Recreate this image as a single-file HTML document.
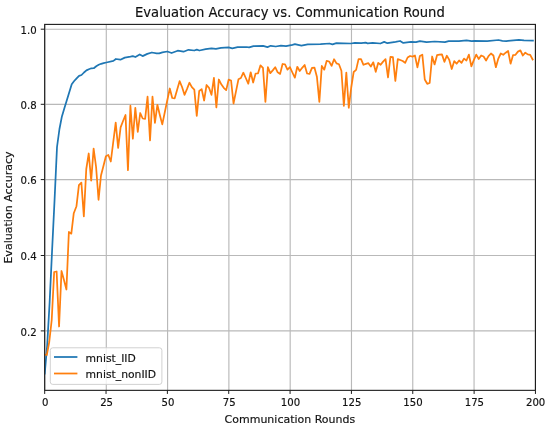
<!DOCTYPE html>
<html><head><meta charset="utf-8"><title>Evaluation Accuracy vs. Communication Round</title>
<style>
html,body{margin:0;padding:0;background:#fff;}
svg{display:block;}
text{font-family:"DejaVu Sans","Liberation Sans",sans-serif;fill:#111;stroke:#111;stroke-width:0.16px;}
</style></head><body>
<svg width="550" height="428" viewBox="0 0 550 428">
<rect x="0" y="0" width="550" height="428" fill="#ffffff"/>

<g stroke="#b9b9b9" stroke-width="1.15" fill="none">
<line x1="45.00" y1="24.4" x2="45.00" y2="390.35"/>
<line x1="106.29" y1="24.4" x2="106.29" y2="390.35"/>
<line x1="167.59" y1="24.4" x2="167.59" y2="390.35"/>
<line x1="228.88" y1="24.4" x2="228.88" y2="390.35"/>
<line x1="290.18" y1="24.4" x2="290.18" y2="390.35"/>
<line x1="351.47" y1="24.4" x2="351.47" y2="390.35"/>
<line x1="412.76" y1="24.4" x2="412.76" y2="390.35"/>
<line x1="474.06" y1="24.4" x2="474.06" y2="390.35"/>
<line x1="535.35" y1="24.4" x2="535.35" y2="390.35"/>
<line x1="44.65" y1="330.90" x2="535.45" y2="330.90"/>
<line x1="44.65" y1="255.50" x2="535.45" y2="255.50"/>
<line x1="44.65" y1="179.60" x2="535.45" y2="179.60"/>
<line x1="44.65" y1="104.30" x2="535.45" y2="104.30"/>
<line x1="44.65" y1="29.20" x2="535.45" y2="29.20"/>
</g>
<g stroke="#1c1c1c" stroke-width="1.0" fill="none">
<line x1="44.70" y1="390.35" x2="44.70" y2="393.95000000000005"/>
<line x1="106.04" y1="390.35" x2="106.04" y2="393.95000000000005"/>
<line x1="167.39" y1="390.35" x2="167.39" y2="393.95000000000005"/>
<line x1="228.73" y1="390.35" x2="228.73" y2="393.95000000000005"/>
<line x1="290.07" y1="390.35" x2="290.07" y2="393.95000000000005"/>
<line x1="351.42" y1="390.35" x2="351.42" y2="393.95000000000005"/>
<line x1="412.76" y1="390.35" x2="412.76" y2="393.95000000000005"/>
<line x1="474.11" y1="390.35" x2="474.11" y2="393.95000000000005"/>
<line x1="535.45" y1="390.35" x2="535.45" y2="393.95000000000005"/>
<line x1="40.75" y1="330.90" x2="44.65" y2="330.90"/>
<line x1="40.75" y1="255.50" x2="44.65" y2="255.50"/>
<line x1="40.75" y1="179.60" x2="44.65" y2="179.60"/>
<line x1="40.75" y1="104.30" x2="44.65" y2="104.30"/>
<line x1="40.75" y1="29.20" x2="44.65" y2="29.20"/>
</g>
<clipPath id="c"><rect x="44.65" y="24.4" width="490.80000000000007" height="365.95000000000005"/></clipPath>
<g clip-path="url(#c)" fill="none" stroke-width="1.75" stroke-linejoin="round" stroke-linecap="square">
<path d="M44.75 373.60 L47.20 345.00 L49.65 302.00 L52.11 250.00 L54.56 200.00 L57.01 147.00 L59.46 129.00 L61.91 116.40 L64.36 108.30 L66.82 100.30 L69.27 92.20 L71.72 84.20 L74.17 81.00 L76.62 78.30 L79.07 75.80 L81.53 75.00 L83.98 72.50 L86.43 70.40 L88.88 69.20 L91.33 68.30 L93.78 68.20 L96.24 66.20 L98.69 64.80 L101.14 63.80 L103.59 63.10 L106.40 62.50 L113.40 60.90 L115.90 59.00 L120.40 59.70 L124.80 57.60 L130.50 56.70 L132.80 56.10 L135.40 57.00 L139.70 54.40 L142.60 56.10 L147.30 53.90 L151.90 52.50 L156.60 53.30 L159.20 53.30 L162.40 52.30 L167.30 51.50 L171.60 53.00 L177.70 50.70 L183.50 51.70 L188.50 49.80 L194.30 50.50 L196.80 49.60 L199.40 50.50 L205.70 49.20 L211.50 48.30 L215.90 48.80 L221.00 47.90 L228.60 47.30 L232.30 48.30 L237.60 47.10 L246.50 47.00 L249.10 47.40 L253.50 46.10 L263.10 45.80 L267.50 47.10 L270.70 45.80 L275.80 46.50 L280.90 45.70 L286.00 46.10 L292.40 44.80 L294.90 44.20 L301.40 45.70 L307.70 44.40 L320.50 44.20 L329.40 43.50 L332.50 44.40 L336.40 43.20 L351.00 43.50 L354.80 42.90 L361.20 43.20 L365.70 42.70 L367.60 43.30 L372.70 42.90 L380.40 43.50 L384.20 41.90 L387.40 43.20 L395.60 41.90 L400.10 41.00 L403.30 42.90 L410.90 41.90 L416.00 42.10 L419.90 41.10 L426.60 42.10 L434.70 41.50 L444.90 42.10 L448.70 41.10 L458.90 41.10 L466.50 40.40 L471.60 41.10 L474.40 40.80 L487.10 41.10 L498.50 40.00 L502.40 40.80 L506.20 41.10 L518.90 39.90 L524.00 40.40 L532.90 40.70" stroke="#1f77b4"/>
<path d="M44.60 354.50 L46.80 355.00 L49.25 342.00 L51.71 320.00 L54.16 272.00 L56.61 271.50 L59.06 326.50 L61.51 271.00 L63.96 280.00 L66.42 289.50 L68.87 232.00 L71.32 233.70 L73.77 213.20 L76.47 206.20 L78.92 185.20 L81.38 182.60 L83.83 216.40 L86.28 169.00 L88.73 153.50 L91.18 180.70 L93.63 148.60 L96.09 167.00 L98.54 199.80 L100.99 175.50 L103.44 166.00 L105.89 156.20 L108.35 155.00 L110.80 161.50 L113.25 142.00 L115.70 122.70 L118.15 148.00 L120.60 127.40 L123.06 121.00 L125.51 115.00 L127.96 170.10 L130.41 105.70 L132.86 138.80 L135.31 107.80 L137.77 131.80 L140.22 113.00 L142.67 118.50 L145.12 118.80 L147.57 96.70 L150.03 140.50 L152.48 96.70 L154.93 122.90 L157.38 104.80 L159.83 115.00 L162.28 124.40 L164.74 112.50 L167.19 100.70 L169.79 88.50 L172.24 98.00 L174.69 98.30 L177.14 89.70 L179.60 81.20 L182.05 87.00 L184.50 94.80 L186.95 89.10 L189.40 82.70 L191.85 87.20 L194.31 89.70 L196.76 115.80 L199.21 91.00 L201.66 89.10 L204.11 100.50 L206.57 85.00 L209.02 87.80 L211.47 94.80 L213.92 77.90 L216.37 107.50 L218.82 79.50 L221.28 84.30 L223.73 87.80 L226.18 90.10 L228.63 79.70 L231.08 80.50 L233.53 103.50 L235.99 91.40 L238.44 79.30 L240.89 78.00 L243.34 72.70 L245.79 78.00 L248.25 83.70 L250.70 72.30 L253.15 82.50 L255.60 73.50 L258.05 73.30 L260.50 65.30 L262.96 67.80 L265.41 101.90 L267.86 67.20 L270.31 73.20 L272.76 70.40 L275.21 67.20 L277.67 72.30 L280.12 73.90 L282.57 64.00 L285.02 64.30 L287.47 69.70 L289.93 67.20 L292.38 72.50 L294.83 77.70 L297.28 66.80 L299.73 71.00 L302.18 67.80 L304.64 65.00 L307.09 73.50 L309.54 73.90 L311.99 67.80 L314.44 67.60 L316.89 76.70 L319.35 101.90 L321.80 65.90 L324.25 69.70 L326.70 60.80 L329.15 61.50 L331.60 65.90 L334.06 59.20 L336.51 63.40 L338.96 64.30 L341.41 70.80 L343.86 105.90 L346.32 72.60 L348.77 107.80 L351.22 87.50 L353.67 72.00 L356.12 69.90 L358.57 59.10 L361.03 59.10 L363.48 64.80 L365.93 63.90 L368.38 63.20 L370.83 66.50 L373.28 62.30 L375.74 71.80 L378.19 62.90 L380.64 64.80 L383.09 61.60 L385.54 59.10 L388.00 77.50 L390.45 56.80 L392.90 57.20 L395.35 81.00 L397.80 59.10 L400.25 60.00 L402.71 61.00 L405.16 62.90 L407.61 57.50 L410.06 56.00 L412.51 56.60 L414.96 55.50 L417.42 67.40 L419.87 56.00 L422.32 54.70 L424.77 79.50 L427.22 83.80 L429.67 83.00 L432.13 56.50 L434.58 64.40 L437.03 55.20 L439.48 54.60 L441.93 54.40 L444.39 61.80 L446.84 55.70 L449.29 59.90 L451.74 69.00 L454.19 61.20 L456.64 63.70 L459.10 60.50 L461.55 62.80 L464.00 58.60 L466.45 60.50 L468.90 54.60 L471.35 66.30 L473.81 60.20 L476.26 54.60 L478.71 59.00 L481.16 55.50 L483.61 56.50 L486.06 60.50 L488.52 56.10 L490.97 53.50 L493.42 55.50 L495.87 67.20 L498.32 58.60 L500.78 53.50 L503.23 54.80 L505.68 52.70 L508.13 51.00 L510.58 63.70 L513.03 55.20 L515.49 54.80 L517.94 51.60 L520.39 50.40 L522.84 55.50 L525.29 52.70 L527.74 54.40 L530.20 54.80 L532.65 59.50" stroke="#ff7f0e"/>
</g>
<rect x="50.3" y="347.8" width="111.6" height="36.6" rx="2.5" ry="2.5" fill="#ffffff" fill-opacity="0.8" stroke="#cccccc" stroke-width="0.9"/>
<line x1="54" y1="357" x2="77.4" y2="357" stroke="#1f77b4" stroke-width="1.75"/>
<line x1="54" y1="373.5" x2="77.4" y2="373.5" stroke="#ff7f0e" stroke-width="1.75"/>
<text transform="translate(85.60 361.70) scale(1 1.04)" font-size="10.8" text-anchor="start">mnist_IID</text>
<text transform="translate(85.60 377.90) scale(1 1.04)" font-size="10.8" text-anchor="start">mnist_nonIID</text>
<rect x="44.65" y="24.4" width="490.80000000000007" height="365.95000000000005" fill="none" stroke="#1c1c1c" stroke-width="1.1"/>
<text transform="translate(45.30 406.45) scale(1 1.045)" font-size="10.15" text-anchor="middle">0</text>
<text transform="translate(106.59 406.45) scale(1 1.045)" font-size="10.15" text-anchor="middle">25</text>
<text transform="translate(167.89 406.45) scale(1 1.045)" font-size="10.15" text-anchor="middle">50</text>
<text transform="translate(229.18 406.45) scale(1 1.045)" font-size="10.15" text-anchor="middle">75</text>
<text transform="translate(290.48 406.45) scale(1 1.045)" font-size="10.15" text-anchor="middle">100</text>
<text transform="translate(351.77 406.45) scale(1 1.045)" font-size="10.15" text-anchor="middle">125</text>
<text transform="translate(413.06 406.45) scale(1 1.045)" font-size="10.15" text-anchor="middle">150</text>
<text transform="translate(474.36 406.45) scale(1 1.045)" font-size="10.15" text-anchor="middle">175</text>
<text transform="translate(535.65 406.45) scale(1 1.045)" font-size="10.15" text-anchor="middle">200</text>
<text transform="translate(36.70 335.50) scale(1 1.04)" font-size="10.15" text-anchor="end">0.2</text>
<text transform="translate(36.70 260.10) scale(1 1.04)" font-size="10.15" text-anchor="end">0.4</text>
<text transform="translate(36.70 184.20) scale(1 1.04)" font-size="10.15" text-anchor="end">0.6</text>
<text transform="translate(36.70 108.90) scale(1 1.04)" font-size="10.15" text-anchor="end">0.8</text>
<text transform="translate(36.70 33.80) scale(1 1.04)" font-size="10.15" text-anchor="end">1.0</text>
<text transform="translate(289.90 422.55) scale(1 1.03)" font-size="11.0" text-anchor="middle">Communication Rounds</text>
<text transform="translate(12.00 207.50) rotate(-90) scale(1.02 1)" font-size="10.85" text-anchor="middle">Evaluation Accuracy</text>
<text transform="translate(289.90 17.30) scale(1 1.03)" font-size="13.15" text-anchor="middle">Evaluation Accuracy vs. Communication Round</text>
</svg></body></html>
